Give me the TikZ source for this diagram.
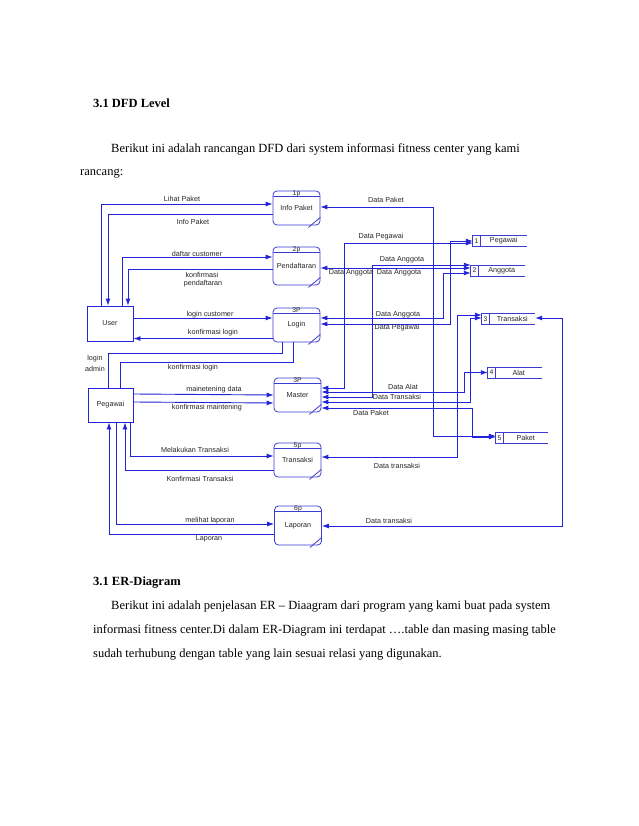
\documentclass[tikz,border=0pt]{standalone}
\usepackage{fontspec}
\setmainfont{Liberation Serif}
\newfontfamily\dfdfont{Liberation Sans}
\usetikzlibrary{arrows.meta}
\definecolor{dfdblue}{RGB}{35,35,215}
\definecolor{boxblue}{RGB}{60,60,210}
\tikzset{
  >={Latex[length=7pt,width=5pt]},
  conn/.style={draw=dfdblue, line width=0.9pt},
  boxline/.style={draw=boxblue, line width=0.8pt},
  procbox/.style={draw=boxblue, line width=0.8pt, rounded corners=4pt, minimum width=47pt, inner sep=0pt, font=\dfdfont\fontsize{7.2}{8}\selectfont, text=black!85},
  entbox/.style={draw=dfdblue, line width=0.9pt, inner sep=0pt, font=\dfdfont\fontsize{7.2}{8}\selectfont, text=black!85},
  storebox/.style={inner sep=0pt, minimum height=10.5pt},
  idtxt/.style={inner sep=0pt, font=\dfdfont\fontsize{6.8}{7}\selectfont, text=black!85},
  lbl/.style={inner sep=0pt, font=\dfdfont\fontsize{7.2}{8}\selectfont, text=black!85, align=center},
  body/.style={inner sep=0pt, anchor=base west, font=\fontsize{12.5}{14}\selectfont}
}
\newcommand\dfdproc[6]{%
  \node[procbox, minimum height=#4pt] (#1) at (#2,#3) {#6};
  \draw[boxline] ([yshift=-6pt]#1.north west) -- ([yshift=-6pt]#1.north east);
  \node[idtxt] (#1id) at ([yshift=-2.8pt]#1.north) {#5};
  \draw[boxline] ([xshift=-12pt,yshift=-2pt]#1.south east) -- ([yshift=8pt]#1.south east);
}
\newcommand\dfdstore[6]{%
  \node[storebox, minimum width=#4pt] (#1) at (#2+#4/2,#3) {};
  \draw[boxline] (#1.north east) -- (#1.north west) -- (#1.south west) -- (#1.south east);
  \draw[boxline] ([xshift=7.5pt]#1.north west) -- ([xshift=7.5pt]#1.south west);
  \node[idtxt] (#1id) at ([xshift=3.75pt]#1.west) {#5};
  \node[lbl] (#1lbl) at ([xshift=3.75pt]#1.center) {#6};
}
\begin{document}
\begin{tikzpicture}[x=1pt,y=-1pt]
\fill[white] (0,0) rectangle (638,826);
\useasboundingbox (0,0) rectangle (638,826);

% body text
\node[body] (h1) at (93,108) {\textbf{3.1 DFD Level}};
\node[body] (b1) at (111,153) {Berikut ini adalah rancangan DFD dari system informasi fitness center yang kami};
\node[body] (b2) at (80,176) {rancang:};
\node[body] (h2) at (93,585) {\textbf{3.1 ER-Diagram}};
\node[body] (b3) at (111,609) {Berikut ini adalah penjelasan ER – Diaagram dari program yang kami buat pada system};
\node[body] (b4) at (93,633) {informasi fitness center.Di dalam ER-Diagram ini terdapat ….table dan masing masing table};
\node[body] (b5) at (93,657) {sudah terhubung dengan table yang lain sesuai relasi yang digunakan.};

% entities
\node[entbox, minimum width=46pt, minimum height=35pt] (user) at (110,323.5) {User};
\node[entbox, minimum width=45pt, minimum height=34pt] (peg) at (110.5,405) {Pegawai};

% processes
\dfdproc{p1}{296.5}{208}{34}{1p}{Info Paket}
\dfdproc{p2}{296.5}{266}{38}{2p}{Pendaftaran}
\dfdproc{p3}{296.5}{325}{34}{3P}{Login}
\dfdproc{p4}{297.5}{395}{34}{3P}{Master}
\dfdproc{p5}{297.5}{460}{34}{5p}{Transaksi}
\dfdproc{p6}{298}{525.5}{39}{6p}{Laporan}

% data stores
\dfdstore{s1}{473}{241}{54}{1}{Pegawai}
\dfdstore{s2}{471}{270.5}{54}{2}{Anggota}
\dfdstore{s3}{482}{319}{53}{3}{Transaksi}
\dfdstore{s4}{488}{372.5}{54}{4}{Alat}
\dfdstore{s5}{496}{438}{52}{5}{Paket}

% left-side flows
\draw[->,conn] ([xshift=-9pt]user.north) |- ([yshift=4pt]p1.west);
\draw[->,conn] ([yshift=-6pt]p1.west) -| ([xshift=-2pt]user.north);
\draw[->,conn] ([xshift=12pt]user.north) |- ([yshift=9pt]p2.west);
\draw[->,conn] ([yshift=-3pt]p2.west) -| ([xshift=18pt]user.north);
\draw[->,conn] ([yshift=5.5pt]user.east) coordinate (a1) -- (a1 -| p3.west);
\draw[<-,conn] ([yshift=-15pt]user.east) coordinate (a2) -- (a2 -| p3.west);
\draw[conn] ([xshift=-2.5pt]peg.north) |- ([xshift=-14.5pt,yshift=-11pt]p3.south) -- ([xshift=-14.5pt]p3.south);
\draw[conn] ([xshift=-3.5pt]p3.south) -- ([xshift=-3.5pt,yshift=-20pt]p3.south) -| ([xshift=9.5pt]peg.north);
\draw[->,conn] ([yshift=11pt]peg.east) -- (p4.west);
\draw[->,conn] ([yshift=3pt]peg.east) -- ([yshift=-8pt]p4.west);
\draw[->,conn] ([xshift=19.5pt]peg.south) |- ([yshift=4pt]p5.west);
\draw[->,conn] ([yshift=-10pt]p5.west) -| ([xshift=14.5pt]peg.south);
\draw[->,conn] ([xshift=5.5pt]peg.south) |- ([yshift=1.5pt]p6.west);
\draw[->,conn] ([yshift=-8.5pt]p6.west) -| ([xshift=-1.5pt]peg.south);

% right-side flows
\draw[<->,conn] ([yshift=1pt]p1.east) -| (433,436) -- ([yshift=2pt]s5.west);
\draw[<->,conn] ([yshift=7pt]p4.east) -| (344,243) -- ([yshift=-2pt]s1.west);
\draw[<->,conn] ([yshift=-2pt]p4.east) -| (372,265) -- ([yshift=5.5pt]s2.west);
\draw[<->,conn] ([yshift=3pt]p4.east) -| (464,372.5) -- (s4.west);
\draw[<->,conn] ([yshift=-7pt]p4.east) -| (470,318) -- ([yshift=1pt]s3.west);
\draw[<->,conn] ([yshift=-13pt]p4.east) -| (472,437) -- ([yshift=1pt]s5.west);
\draw[<->,conn] ([yshift=-2pt]p2.east) -- ([yshift=2.5pt]s2.west);
\draw[<->,conn] ([yshift=7pt]p3.east) -| (443,273) -- ([yshift=-2.5pt]s2.west);
\draw[<->,conn] ([yshift=1pt]p3.east) -| (450,241) -- (s1.west);
\draw[<->,conn] ([yshift=3pt]p5.east) -| (457,315) -- ([yshift=4pt]s3.west);
\draw[<->,conn] ([yshift=-0.5pt]p6.east) -| (562,318) -- ([yshift=1pt]s3.east);

% labels left
\node[lbl] (l1) at (182,199) {Lihat Paket};
\node[lbl] (l2) at (193,222) {Info Paket};
\node[lbl] (l3) at (197,254) {daftar customer};
\node[lbl] (l4) at (202,275) {konfirmasi};
\node[lbl] (l5) at (203,284) {pendaftaran};
\node[lbl] (l6) at (210,315) {login customer};
\node[lbl] (l7) at (213,333) {konfirmasi login};
\node[lbl] (l8) at (95,359) {login};
\node[lbl] (l9) at (95,369) {admin};
\node[lbl] (l10) at (193,368) {konfirmasi login};
\node[lbl] (l11) at (214,390) {mainetening data};
\node[lbl] (l12) at (207,408) {konfirmasi maintening};
\node[lbl] (l13) at (195,450) {Melakukan Transaksi};
\node[lbl] (l14) at (200,479) {Konfirmasi Transaksi};
\node[lbl] (l15) at (210,521) {melihat laporan};
\node[lbl] (l16) at (209,539) {Laporan};

% labels right
\node[lbl] (r1) at (386,200) {Data Paket};
\node[lbl] (r2) at (381,237) {Data Pegawai};
\node[lbl] (r3) at (402,260) {Data Anggota};
\node[lbl] (r4) at (351,273) {Data Anggota};
\node[lbl] (r5) at (399,273) {Data Anggota};
\node[lbl] (r6) at (398,315) {Data Anggota};
\node[lbl] (r7) at (397,328) {Data Pegawai};
\node[lbl] (r8) at (403,387) {Data Alat};
\node[lbl] (r9) at (397,397) {Data Transaksi};
\node[lbl] (r10) at (371,413) {Data Paket};
\node[lbl] (r11) at (397,466) {Data transaksi};
\node[lbl] (r12) at (389,521) {Data transaksi};
\end{tikzpicture}
\end{document}
